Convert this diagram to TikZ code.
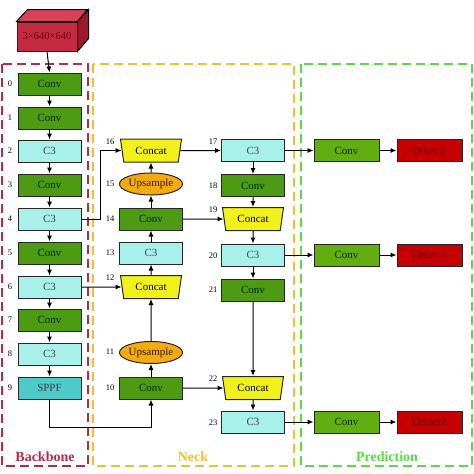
\documentclass[tikz,border=0pt]{standalone}
\usepackage{fontspec}
\setmainfont{Liberation Serif}
\usetikzlibrary{shapes.geometric,arrows.meta}
\definecolor{convg}{HTML}{4C9B12}
\definecolor{pconvg}{HTML}{62AE10}
\definecolor{cthree}{HTML}{A8F0EA}
\definecolor{sppfc}{HTML}{4FCACA}
\definecolor{catc}{HTML}{F2F21A}
\definecolor{upc}{HTML}{F5AA10}
\definecolor{detc}{HTML}{C60000}
\definecolor{dett}{HTML}{5E0000}
\definecolor{cubef}{HTML}{C42A40}
\definecolor{cubet}{HTML}{D9405A}
\definecolor{cubes}{HTML}{A0182E}
\definecolor{cubetx}{HTML}{6E0010}
\definecolor{bbc}{HTML}{B52A4C}
\definecolor{nkc}{HTML}{F0BE30}
\definecolor{prc}{HTML}{5CD848}
\begin{document}
\begin{tikzpicture}[x=1pt,y=-1pt,
  blk/.style={draw=black!85, line width=1pt, minimum width=63, minimum height=22, inner sep=0pt, font=\fontsize{11}{12}\selectfont},
  conv/.style={blk, fill=convg, text=black!85!green},
  pconv/.style={blk, fill=pconvg, minimum width=65, text=black!85!green},
  cthr/.style={blk, fill=cthree, text=black!80!cyan},
  sppf/.style={blk, fill=sppfc, text=black!85!cyan},
  cat/.style={blk, fill=catc, trapezium, trapezium stretches=true, shape border rotate=180, trapezium angle=76, minimum width=61, minimum height=23},
  ups/.style={blk, ellipse, fill=upc, minimum width=62, minimum height=22, text=black!80!orange},
  det/.style={blk, fill=detc, minimum width=65, text=dett},
  num/.style={font=\fontsize{8.5}{9}\selectfont, inner sep=0pt},
  arr/.style={line width=1pt, -{Latex[length=6pt,width=5pt]}},
  ln/.style={line width=1pt},
  grp/.style={line width=1.8pt, dash pattern=on 9pt off 5pt},
  glab/.style={font=\fontsize{14}{15}\selectfont\bfseries, inner sep=0pt}]
\useasboundingbox (0,0) rectangle (474,474);

% group frames
\draw[grp, draw=bbc] (2,64) rectangle (88,466);
\draw[grp, draw=nkc] (93,64) rectangle (294,466);
\draw[grp, draw=prc] (301,64) rectangle (472,466);
\node[glab, text=bbc] (lbb) at (45,457) {Backbone};
\node[glab, text=nkc] (lnk) at (193,457) {Neck};
\node[glab, text=prc] (lpr) at (387,457) {Prediction};

% input cube
\node[draw=black!85, line width=1pt, fill=cubef, minimum width=60, minimum height=29, inner sep=0pt, text=cubetx, font=\fontsize{10.5}{11}\selectfont] (cube) at (47,36.5) {3×640×640};
\draw[ln, fill=cubet] (cube.north west) -- ++(11,-12) -- ++(60,0) -- (cube.north east) -- cycle;
\draw[ln, fill=cubes] (cube.north east) -- ++(11,-12) -- ++(0,29) -- (cube.south east) -- cycle;

% backbone
\node[conv] (b0) at (49.5,84) {Conv};
\node[conv] (b1) at (49.5,118) {Conv};
\node[cthr] (b2) at (49.5,151) {C3};
\node[conv] (b3) at (49.5,185) {Conv};
\node[cthr] (b4) at (49.5,219) {C3};
\node[conv] (b5) at (49.5,253) {Conv};
\node[cthr] (b6) at (49.5,287) {C3};
\node[conv] (b7) at (49.5,320) {Conv};
\node[cthr] (b8) at (49.5,354) {C3};
\node[sppf] (b9) at (49.5,388) {SPPF};
\foreach \i/\y in {0/84,1/118,2/151,3/185,4/219,5/253,6/287,7/320,8/354,9/388}
  \node[num] (nb\i) at (10,\y) {\i};

% neck column 1
\node[cat] (c16) at (151,150.5) {Concat};
\node[ups] (c15) at (151,184) {Upsample};
\node[conv] (c14) at (151,219) {Conv};
\node[cthr] (c13) at (151,253) {C3};
\node[cat] (c12) at (151,287) {Concat};
\node[ups] (c11) at (151,352.5) {Upsample};
\node[conv] (c10) at (151,388) {Conv};
\node[num] (n16) at (110,142) {16};
\node[num] (n15) at (110,184) {15};
\node[num] (n14) at (110,219) {14};
\node[num] (n13) at (110,253) {13};
\node[num] (n12) at (110,278) {12};
\node[num] (n11) at (110,352) {11};
\node[num] (n10) at (110,388) {10};

% neck column 2
\node[cthr] (d17) at (253,150.5) {C3};
\node[conv] (d18) at (253,185.5) {Conv};
\node[cat] (d19) at (253,219) {Concat};
\node[cthr] (d20) at (253,255) {C3};
\node[conv] (d21) at (253,290) {Conv};
\node[cat] (d22) at (253,388) {Concat};
\node[cthr] (d23) at (253,422) {C3};
\node[num] (n17) at (213,142) {17};
\node[num] (n18) at (213,186) {18};
\node[num] (n19) at (213,210) {19};
\node[num] (n20) at (213,256) {20};
\node[num] (n21) at (213,290) {21};
\node[num] (n22) at (213,379) {22};
\node[num] (n23) at (213,423) {23};

% prediction
\node[pconv] (p0) at (346.5,150.5) {Conv};
\node[pconv] (p1) at (346.5,255) {Conv};
\node[pconv] (p2) at (346.5,422) {Conv};
\node[det] (t0) at (429.5,150.5) {Detect0};
\node[det] (t1) at (429.5,255) {Detect1};
\node[det] (t2) at (429.5,422) {Detect2};

% connectors backbone
\draw[arr] (cube.south) -- (b0.north);
\foreach \a/\b in {b0/b1,b1/b2,b2/b3,b3/b4,b4/b5,b5/b6,b6/b7,b7/b8,b8/b9}
  \draw[arr] (\a.south) -- (\b.north);
\draw[arr] (b4.east) -- (100,219) |- (c16.west);
\draw[arr] (b6.east) -- (c12.west);
\draw[arr] (b9.south) -- ++(0,28) -| (c10.south);

% neck col 1 (upward)
\draw[arr] (c10.north) -- (c11.south);
\draw[arr] (c11.north) -- (c12.south);
\draw[arr] (c12.north) -- (c13.south);
\draw[arr] (c13.north) -- (c14.south);
\draw[arr] (c14.north) -- (c15.south);
\draw[arr] (c15.north) -- (c16.south);

% cross
\draw[arr] (c16.east) -- (d17.west);
\draw[arr] (c14.east) -- (d19.west);
\draw[arr] (c10.east) -- (d22.west);

% neck col 2 (downward)
\draw[arr] (d17.south) -- (d18.north);
\draw[arr] (d18.south) -- (d19.north);
\draw[arr] (d19.south) -- (d20.north);
\draw[arr] (d20.south) -- (d21.north);
\draw[arr] (d21.south) -- (d22.north);
\draw[arr] (d22.south) -- (d23.north);

% prediction
\draw[arr] (d17.east) -- (p0.west);
\draw[arr] (d20.east) -- (p1.west);
\draw[arr] (d23.east) -- (p2.west);
\draw[arr] (p0.east) -- (t0.west);
\draw[arr] (p1.east) -- (t1.west);
\draw[arr] (p2.east) -- (t2.west);
\end{tikzpicture}
\end{document}
